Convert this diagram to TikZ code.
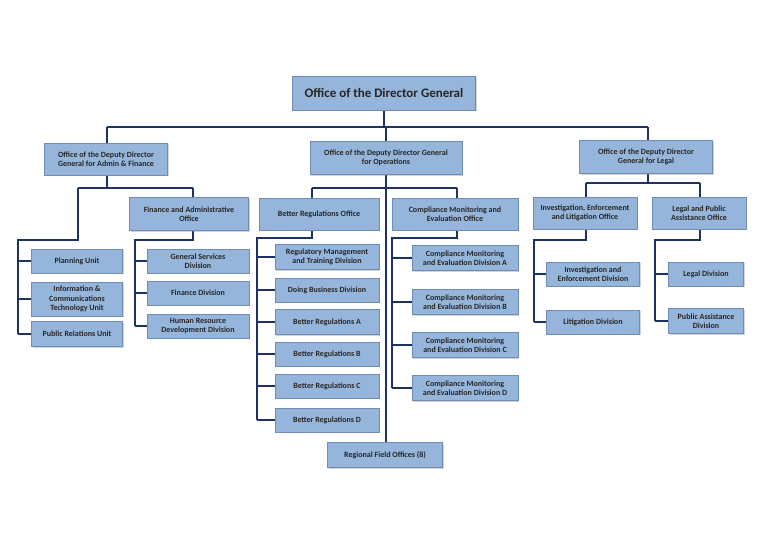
\documentclass[tikz,border=0pt]{standalone}
\usepackage{fontspec}
\setmainfont{Carlito}
\usetikzlibrary{shadows}
\definecolor{boxfill}{RGB}{149,181,218}
\definecolor{boxline}{RGB}{110,140,180}
\definecolor{conn}{RGB}{30,50,100}
\tikzset{
 bx/.style={fill=boxfill,draw=boxline,line width=0.4pt,align=center,inner sep=1pt,
   font=\bfseries\fontsize{8}{9.5}\selectfont,text=black!85,
   drop shadow={shadow xshift=1.2pt,shadow yshift=-1.2pt,opacity=0.35}},
 cn/.style={draw=conn,line width=1.5pt}
}
\newcommand{\bxn}[6]{\node[bx,minimum width=#4pt,minimum height=#5pt] (#1) at (#2,#3) {#6};}
\begin{document}
\begin{tikzpicture}[x=1pt,y=-1pt]
\useasboundingbox (0,0) rectangle (768,543);
% connectors first
\coordinate (t1) at (107,127); \coordinate (t2) at (648,127);
\coordinate (a1) at (107,188); \coordinate (a2) at (78,188); \coordinate (a3) at (193,188);
\coordinate (p1) at (78,240); \coordinate (p2) at (18,240); \coordinate (p3) at (18,334);
\coordinate (f1) at (193,240); \coordinate (f2) at (135,240); \coordinate (f3) at (135,326);
\coordinate (o1) at (312,188); \coordinate (o2) at (457,188);
\coordinate (b1) at (312,238); \coordinate (b2) at (257,238); \coordinate (b3) at (257,420);
\coordinate (c1) at (457,238); \coordinate (c2) at (392,238); \coordinate (c3) at (392,388);
\coordinate (l1) at (648,183); \coordinate (l2) at (586,183); \coordinate (l3) at (700,183);
\coordinate (i1) at (586,240); \coordinate (i2) at (534,240); \coordinate (i3) at (534,322);
\coordinate (j1) at (700,240); \coordinate (j2) at (655,240); \coordinate (j3) at (655,321);
\draw[cn] (384,110) -- (384,127);
\draw[cn] (t1) -- (t2);
\draw[cn] (107,127) -- (107,143); \draw[cn] (386,127) -- (386,142); \draw[cn] (648,127) -- (648,141);
\draw[cn] (107,175) -- (a1); \draw[cn] (a2) -- (a3); \draw[cn] (a3) -- (193,198);
\draw[cn] (a2) -- (p1) -- (p2) -- (p3);
\foreach \y in {261,299,334} \draw[cn] (18,\y) -- (32,\y);
\draw[cn] (193,231) -- (f1) -- (f2) -- (f3);
\foreach \y in {261,293,326} \draw[cn] (135,\y) -- (147,\y);
\draw[cn] (386,175) -- (386,443);
\draw[cn] (o1) -- (o2); \draw[cn] (o1) -- (312,198); \draw[cn] (o2) -- (457,198);
\draw[cn] (312,230) -- (b1) -- (b2) -- (b3);
\foreach \y in {257,290,322,354,386,420} \draw[cn] (257,\y) -- (275,\y);
\draw[cn] (457,230) -- (c1) -- (c2) -- (c3);
\foreach \y in {258,302,345,388} \draw[cn] (392,\y) -- (412,\y);
\draw[cn] (648,174) -- (l1); \draw[cn] (l2) -- (l3); \draw[cn] (l2) -- (586,197); \draw[cn] (l3) -- (700,197);
\draw[cn] (586,229) -- (i1) -- (i2) -- (i3);
\foreach \y in {274,322} \draw[cn] (534,\y) -- (547,\y);
\draw[cn] (700,229) -- (j1) -- (j2) -- (j3);
\foreach \y in {274,321} \draw[cn] (655,\y) -- (669,\y);
% boxes
\node[bx,minimum width=183pt,minimum height=34pt,font=\bfseries\fontsize{13}{15}\selectfont] (dg) at (384,93) {Office of the Director General};
\bxn{adm}{106}{159}{123}{32}{Office of the Deputy Director\\General for Admin \& Finance}
\bxn{ops}{386}{158}{152}{33}{Office of the Deputy Director General\\for Operations}
\bxn{leg}{646}{157}{133}{33}{Office of the Deputy Director\\General for Legal}
\bxn{fao}{189}{214}{119}{33}{Finance and Administrative\\Office}
\bxn{pu}{77}{261}{91}{24}{Planning Unit}
\bxn{ict}{77}{299}{91}{34}{Information \&\\Communications\\Technology Unit}
\bxn{pr}{77}{334}{91}{25}{Public Relations Unit}
\bxn{gs}{198}{261}{102}{24}{General Services\\Division}
\bxn{fd}{198}{293}{102}{24}{Finance Division}
\bxn{hr}{198}{326}{102}{24}{Human Resource\\Development Division}
\bxn{bro}{319}{214}{120}{32}{Better Regulations Office}
\bxn{rm}{327}{257}{104}{25}{Regulatory Management\\and Training Division}
\bxn{db}{327}{290}{104}{24}{Doing Business Division}
\bxn{ba}{327}{322}{104}{25}{Better Regulations A}
\bxn{bb}{327}{354}{104}{24}{Better Regulations B}
\bxn{bc}{327}{386}{104}{24}{Better Regulations C}
\bxn{bd}{327}{420}{104}{24}{Better Regulations D}
\bxn{cmo}{455}{214}{126}{32}{Compliance Monitoring and\\Evaluation Office}
\bxn{ca}{465}{258}{106}{25}{Compliance Monitoring\\and Evaluation Division A}
\bxn{cb}{465}{302}{106}{25}{Compliance Monitoring\\and Evaluation Division B}
\bxn{cc}{465}{345}{106}{25}{Compliance Monitoring\\and Evaluation Division C}
\bxn{cd}{465}{388}{106}{25}{Compliance Monitoring\\and Evaluation Division D}
\bxn{rfo}{385}{455}{115}{25}{Regional Field Offices (8)}
\bxn{iel}{585}{213}{104}{32}{Investigation, Enforcement\\and Litigation Office}
\bxn{lpa}{699}{213}{94}{32}{Legal and Public\\Assistance Office}
\bxn{ied}{593}{274}{93}{24}{Investigation and\\Enforcement Division}
\bxn{lit}{593}{322}{93}{24}{Litigation Division}
\bxn{ld}{706}{274}{75}{24}{Legal Division}
\bxn{pad}{706}{321}{75}{25}{Public Assistance\\Division}
\end{tikzpicture}
\end{document}
